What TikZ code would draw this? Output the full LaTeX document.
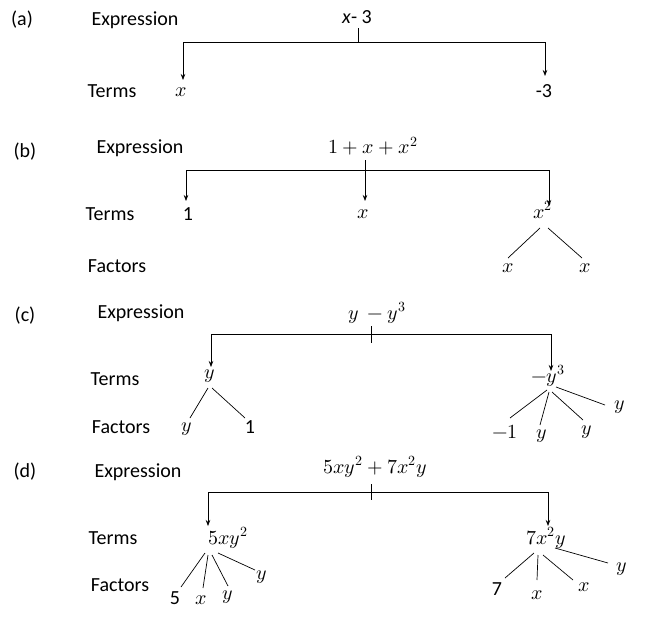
\documentclass[tikz,border=0pt]{standalone}
\usepackage{unicode-math}
\setmainfont{Carlito}
\setmathfont{Latin Modern Math}
\usetikzlibrary{arrows.meta}
\begin{document}
\begin{tikzpicture}[x=1pt,y=-1pt,font=\fontsize{20}{24}\selectfont,
  ln/.style={black,line width=0.7pt},
  ar/.style={ln,-{Stealth[length=6pt,width=4.5pt]}},
  lb/.style={inner sep=1pt}]
\useasboundingbox (0,0) rectangle (645,616);
% (a)
\node[lb] (la) at (22,20) {(a)};
\node[lb] (ea) at (135,20) {Expression};
\node[lb] (xa) at (357,17) {\textit{x}- 3};
\node[lb] (ta) at (112,91) {Terms};
\node[lb] (a1) at (181,92) {$x$};
\node[lb] (a2) at (544,91) {-3};
\draw[ln] (358,28) -- (358,42);
\draw[ln] (183,42) -- (545,42);
\draw[ar] (183,42) -- (183,80);
\draw[ar] (545,42) -- (545,76);
% (b)
\node[lb] (lb) at (25,152) {(b)};
\node[lb] (eb) at (140,148) {Expression};
\node[lb] (xb) at (373,146) {$1+x+x^2$};
\node[lb] (tb) at (110,214) {Terms};
\node[lb] (b1) at (188,214) {1};
\node[lb] (b2) at (363,214) {$x$};
\node[lb] (b3) at (543,210) {$x^2$};
\node[lb] (fb) at (117,266) {Factors};
\node[lb] (b4) at (508,268) {$x$};
\node[lb] (b5) at (585,268) {$x$};
\draw[ln] (186,170) -- (549,170);
\draw[ar] (365,160) -- (365,201);
\draw[ar] (186,170) -- (186,201);
\draw[ar] (549,170) -- (549,206);
\draw[ln] (540,228) -- (508,258);
\draw[ln] (548,228) -- (582,258);
% (c)
\node[lb] (lc) at (25,316) {(c)};
\node[lb] (ec) at (141,313) {Expression};
\node[lb] (xc) at (377,313) {$y\ -y^3$};
\node[lb] (tc) at (115,379) {Terms};
\node[lb] (c1) at (210,376) {$y$};
\node[lb] (c2) at (548,376) {$-y^3$};
\node[lb] (fc) at (121,427) {Factors};
\node[lb] (c3) at (187,429) {$y$};
\node[lb] (c4) at (250,427) {1};
\node[lb] (c5) at (505,432) {$-1$};
\node[lb] (c6) at (542,436) {$y$};
\node[lb] (c7) at (587,432) {$y$};
\node[lb] (c8) at (620,407) {$y$};
\draw[ln] (211,334) -- (551,334);
\draw[ln] (371,326) -- (371,343);
\draw[ar] (211,334) -- (211,367);
\draw[ar] (551,334) -- (551,371);
\draw[ln] (208,388) -- (190,418);
\draw[ln] (212,388) -- (245,418);
\draw[ln] (547,390) -- (510,418);
\draw[ln] (549,392) -- (540,425);
\draw[ln] (552,392) -- (583,420);
\draw[ln] (556,387) -- (605,405);
% (d)
\node[lb] (ld) at (25,472) {(d)};
\node[lb] (ed) at (138,472) {Expression};
\node[lb] (xd) at (375,467) {$5xy^2+7x^2y$};
\node[lb] (td) at (113,538) {Terms};
\node[lb] (d1) at (228,538) {$5xy^2$};
\node[lb] (d2) at (546,538) {$7x^2y$};
\node[lb] (fd) at (120,585) {Factors};
\node[lb] (d3) at (175,598) {5};
\node[lb] (d4) at (201,600) {$x$};
\node[lb] (d5) at (228,597) {$y$};
\node[lb] (d6) at (262,577) {$y$};
\node[lb] (d7) at (497,589) {7};
\node[lb] (d8) at (537,595) {$x$};
\node[lb] (d9) at (584,587) {$x$};
\node[lb] (d10) at (622,569) {$y$};
\draw[ln] (208,492) -- (548,492);
\draw[ln] (371,484) -- (371,500);
\draw[ar] (208,492) -- (208,526);
\draw[ar] (548,492) -- (548,526);
\draw[ln] (205,553) -- (181,587);
\draw[ln] (208,555) -- (203,588);
\draw[ln] (212,555) -- (228,586);
\draw[ln] (218,553) -- (255,570);
\draw[ln] (534,553) -- (505,578);
\draw[ln] (538,555) -- (537,580);
\draw[ln] (543,555) -- (573,580);
\draw[ln] (555,548) -- (608,563);
\end{tikzpicture}
\end{document}
